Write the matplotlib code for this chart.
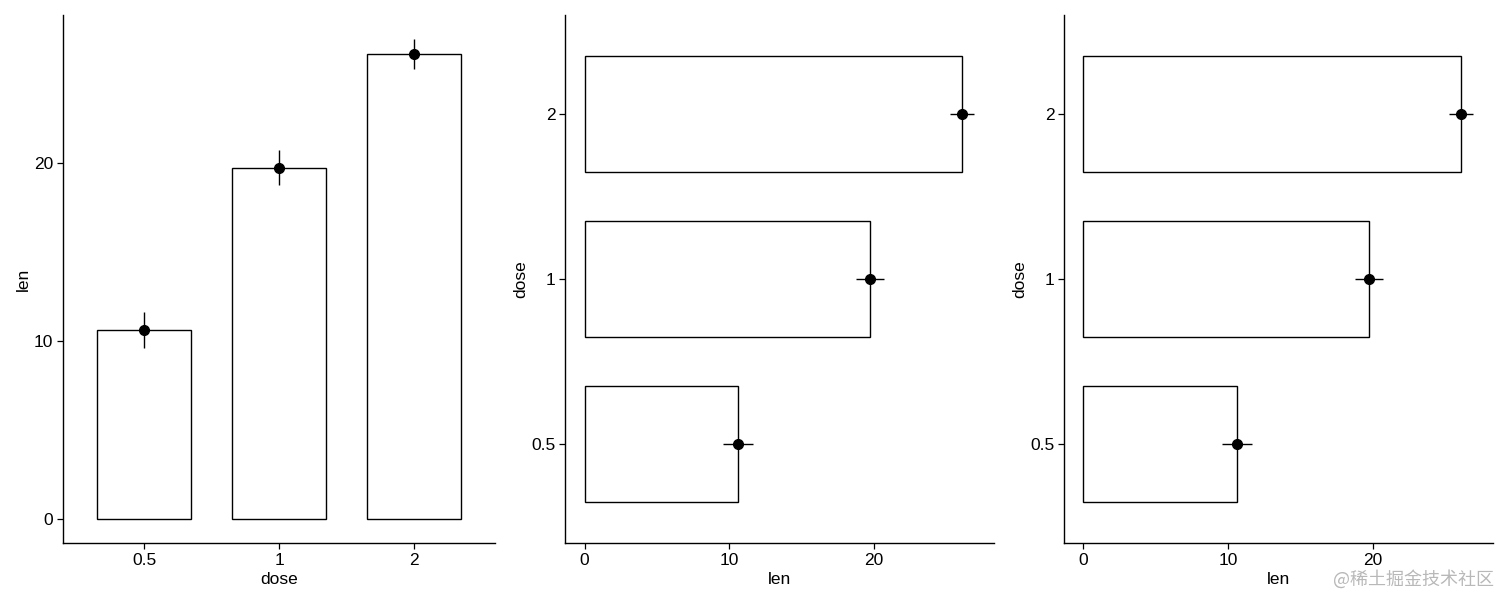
import matplotlib
matplotlib.use("Agg")
import matplotlib.pyplot as plt
import numpy as np

plt.rcParams['font.family'] = ['Liberation Sans', 'DejaVu Sans']

doses = ["0.5", "1", "2"]
mean_len = [10.605, 19.735, 26.100]
se_len = [1.006, 0.987, 0.844]

fig = plt.figure(figsize=(15.12, 6.05), dpi=100)

def style(ax):
    for s in ['top', 'right']:
        ax.spines[s].set_visible(False)
    for s in ['left', 'bottom']:
        ax.spines[s].set_linewidth(1.0)
        ax.spines[s].set_color('black')
    ax.tick_params(direction='out', length=4, width=0.9, labelsize=12.5, colors='black', pad=3)

pos = np.arange(len(doses))
upper = max(m + s for m, s in zip(mean_len, se_len))
lo, hi = -0.05 * upper, upper * 1.05

# Panel 1: vertical bars
ax1 = fig.add_axes([0.0417, 0.1025, 0.2857, 0.8725])
ax1.bar(pos, mean_len, width=0.7, facecolor='white', edgecolor='black', linewidth=1.0)
ax1.errorbar(pos, mean_len, yerr=se_len, fmt='o', color='black', markersize=7, elinewidth=1.0, capsize=0)
ax1.set_xlim(-0.6, len(doses) - 0.4)
ax1.set_ylim(lo, hi)
ax1.set_xticks(pos)
ax1.set_xticklabels(doses)
ax1.set_yticks([0, 10, 20])
ax1.set_xlabel("dose", fontsize=12.5, labelpad=3)
ax1.set_ylabel("len", fontsize=12.5, labelpad=2)
style(ax1)

# Panels 2 and 3: horizontal bars
for left in [0.3737, 0.7037]:
    ax = fig.add_axes([left, 0.1025, 0.2837, 0.8725])
    ax.barh(pos, mean_len, height=0.7, facecolor='white', edgecolor='black', linewidth=1.0)
    ax.errorbar(mean_len, pos, xerr=se_len, fmt='o', color='black', markersize=7, elinewidth=1.0, capsize=0)
    ax.set_ylim(-0.6, len(doses) - 0.4)
    ax.set_xlim(lo, hi)
    ax.set_yticks(pos)
    ax.set_yticklabels(doses)
    ax.set_xticks([0, 10, 20])
    ax.set_xlabel("len", fontsize=12.5, labelpad=3)
    ax.set_ylabel("dose", fontsize=12.5, labelpad=2)
    style(ax)

fig.text(0.988, 0.043, "@稀土掘金技术社区", ha='right', va='center', fontsize=13,
         color='#b8b8b8', family=['Noto Sans CJK SC', 'DejaVu Sans'])

fig.savefig("out.png", dpi=100, facecolor='white')
